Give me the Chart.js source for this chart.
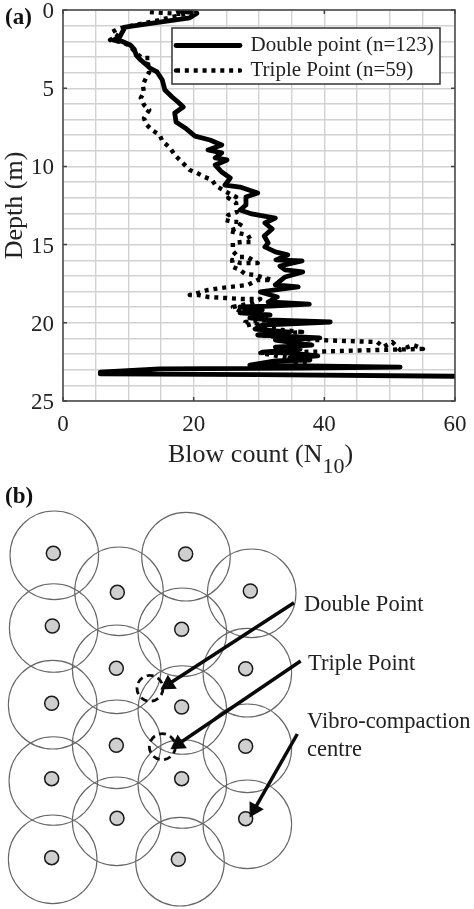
<!DOCTYPE html>
<html><head><meta charset="utf-8">
<script src="https://cdn.jsdelivr.net/npm/chart.js@4/dist/chart.umd.min.js"></script>
<style>
html,body{margin:0;padding:0;background:#fff;width:474px;height:909px;overflow:hidden}
canvas{position:absolute;left:0}
.t{position:absolute;font-family:"Liberation Serif",serif;color:#222;white-space:nowrap;line-height:1}
.s{font-size:22.5px}
.p{font-size:23px;font-weight:bold;color:#111}
sub{font-size:22px;line-height:0;vertical-align:-11px}
</style></head><body>
<canvas id="a" width="474" height="480" style="top:0"></canvas>
<canvas id="b" width="474" height="429" style="top:480px"></canvas>
<div class="t p" style="left:5px;top:5px">(a)</div>
<div class="t p" style="left:5px;top:484px">(b)</div>
<div class="t" style="left:168px;top:441px;font-size:26px">Blow count (N<sub>10</sub>)</div>
<div class="t s" style="left:304px;top:593px">Double Point</div>
<div class="t s" style="left:308px;top:652px">Triple Point</div>
<div class="t s" style="left:307px;top:710px">Vibro-compaction</div>
<div class="t s" style="left:307px;top:738px">centre</div>
<script>
// Panel (a): blow count against depth
const doubleBlow=[17.6,20.5,19.4,14.8,9.5,9.0,8.6,7.7,9.0,10.3,10.9,11.2,11.9,13.3,14.4,15.2,15.6,16.7,17.6,18.4,17.1,17.3,18.7,20.2,22.5,24.3,22.2,24.3,23.3,25.1,23.3,24.3,25.6,24.8,27.1,29.8,28.0,28.0,27.1,28.9,32.5,30.9,32.0,30.8,31.4,30.9,32.5,34.4,32.6,36.6,33.2,34.0,36.7,34.0,32.5,36.0,32.5,30.2,32.8,31.4,37.7,31.7,27.1,30.5,27.1,31.7,28.6,31.4,40.9,30.5,29.4,34.7,29.8,39.3,32.5,34.7,38.1,32.5,36.3,30.5,34.7,39.0,34.7,37.8,32.5,28.6,51.6,36.3,14.8,5.7,13.3,5.7,30.0,60.5];
const doubleDepth=[0.06,0.2,0.5,0.77,1.09,1.47,1.8,1.92,2.0,2.24,2.5,2.88,3.2,3.71,3.96,4.48,5.12,5.56,5.88,6.2,6.59,7.16,7.54,8.06,8.31,8.63,8.95,9.14,9.46,9.59,9.91,10.36,10.74,11.19,11.32,11.7,11.96,12.47,12.79,13.04,13.3,13.62,14.0,14.45,14.9,15.15,15.47,15.66,15.98,16.05,16.37,16.62,16.75,17.07,17.58,17.71,17.9,18.03,18.35,18.67,18.8,18.93,18.99,19.18,19.37,19.5,19.69,19.82,19.95,20.14,20.4,20.59,20.78,20.97,21.1,21.23,21.42,21.55,21.68,21.87,21.93,22.12,22.25,22.38,22.44,22.7,22.83,22.9,22.95,23.15,23.2,23.27,23.32,23.42];
const tripleBlow=[13.3,15.6,18.7,16.7,14.8,9.5,8.4,7.5,8.4,7.2,9.0,10.3,11.0,12.1,13.3,13.0,13.2,12.7,12.2,12.4,11.9,12.4,13.2,12.4,12.7,13.6,14.8,15.2,16.4,17.1,18.2,19.4,20.5,21.7,22.8,23.4,25.3,26.5,25.3,26.5,26.6,25.3,24.8,26.0,27.4,26.8,25.4,26.8,28.3,28.9,27.4,26.0,26.0,26.8,28.2,29.8,28.3,27.1,25.9,26.0,27.1,27.9,29.4,30.9,32.0,29.8,28.3,26.8,24.3,22.2,20.7,19.4,20.7,22.2,24.8,27.4,30.2,28.9,26.0,26.8,29.4,30.5,31.4,27.9,27.9,29.4,30.9,33.5,36.6,29.8,33.2,38.6,43.2,48.1,49.0,50.4,51.6,53.6,55.1,48.1,42.4,36.3,30.2,33.7,37.3,35.5,37.3];
const tripleDepth=[0.13,0.19,0.26,0.45,0.64,1.09,1.21,1.41,1.66,1.92,2.05,2.3,2.69,3.07,3.07,3.39,3.96,4.35,4.8,5.24,5.63,6.07,6.39,6.91,7.29,7.67,7.99,8.38,8.82,9.27,9.72,10.23,10.42,10.68,10.87,11.25,11.7,11.96,12.02,12.34,12.92,13.11,13.43,13.55,13.55,13.94,14.13,14.26,14.39,14.83,14.83,14.9,15.41,15.79,15.79,16.18,16.18,16.18,15.98,16.43,16.62,16.88,16.94,17.14,17.26,17.26,17.58,17.65,17.77,17.9,18.09,18.22,18.22,18.35,18.41,18.48,18.48,18.73,18.99,19.18,19.31,19.57,19.82,19.95,20.2,20.01,20.33,20.46,20.59,20.78,20.91,21.1,21.16,21.23,21.55,21.23,21.74,21.42,21.67,21.74,21.8,21.87,21.93,22.19,22.25,22.5,22.63];
const seriesNames=["Double point (n=123)","Triple Point (n=59)"];
const blowTicks=[0,20,40,60];
const depthTicks=[0,5,10,15,20,25];

// Panel (b): layout of the compaction grid, in schematic units
const ringX=[163,558,357,755,161,547,350,742,158,547,350,742,160,547,350,742,158,540];
const ringY=[226,230,334,340,444,457,568,578,674,690,793,805,903,912,1024,1033,1138,1145];
const centreX=[160,557,352,751,157,545,349,737,155,545,349,737,155,545,351,737,155,535];
const centreY=[220,222,337,333,438,448,565,566,670,681,796,799,896,896,1015,1016,1133,1138];
const markX=[450,487];
const markY=[625,800];
const arrowFromX=[882,902,892];
const arrowFromY=[368,543,762];
const arrowToX=[505,535,763];
const arrowToY=[613,792,988];

const xy=(xs,ys)=>xs.map((x,i)=>({x,y:ys[i]}));
const noPad=s=>{s.paddingTop=0;s.paddingBottom=0;s.paddingLeft=0;s.paddingRight=0;};

const framePlugin={id:'frame',
  afterLayout(c){
    const l=c.legend; if(!l) return;
    const w=l.right-l.left,h=l.bottom-l.top;
    l.left=172; l.top=31; l.right=172+w; l.bottom=31+h;
    if(!l._boxed){
      l._boxed=true;
      const d=l.draw.bind(l);
      l.draw=function(){
        const g=c.ctx; g.save();
        g.fillStyle='#fff'; g.strokeStyle='#333'; g.lineWidth=1.5;
        g.fillRect(172,28,268,56); g.strokeRect(172,28,268,56);
        g.restore(); d();
      };
    }
  },
  afterDraw(c){
    const g=c.ctx,a=c.chartArea,X=c.scales.x,Y=c.scales.y;
    g.save(); g.strokeStyle='#444'; g.lineWidth=1.5;
    g.strokeRect(a.left,a.top,a.right-a.left,a.bottom-a.top);
    g.beginPath();
    blowTicks.forEach(v=>{const p=X.getPixelForValue(v);
      g.moveTo(p,a.bottom);g.lineTo(p,a.bottom-4);g.moveTo(p,a.top);g.lineTo(p,a.top+4);});
    depthTicks.forEach(v=>{const p=Y.getPixelForValue(v);
      g.moveTo(a.left,p);g.lineTo(a.left+4,p);g.moveTo(a.right,p);g.lineTo(a.right-4,p);});
    g.stroke(); g.restore();
  }};

const gridStyle={color:'#d2d2d2',lineWidth:1.4,borderDash:[1.5,1.5],drawTicks:false};
const tickFont={family:'"Liberation Serif"',size:23};

new Chart(document.getElementById('a'),{
  type:'scatter',
  data:{datasets:[
    {label:seriesNames[0],data:xy(doubleBlow,doubleDepth),showLine:true,tension:0,pointRadius:0,
     borderColor:'#000',backgroundColor:'#000',borderWidth:4.8,borderJoinStyle:'round',borderCapStyle:'round'},
    {label:seriesNames[1],data:xy(tripleBlow,tripleDepth),showLine:true,tension:0,pointRadius:0,
     borderColor:'#000',backgroundColor:'#000',borderWidth:4.4,borderDash:[4,4.86],borderJoinStyle:'round'}
  ]},
  options:{responsive:false,animation:false,devicePixelRatio:1,
    layout:{autoPadding:false,padding:{top:10,right:19,left:0,bottom:0}},
    scales:{
      x:{type:'linear',min:0,max:60,position:'bottom',
        grid:gridStyle,border:{display:false},
        ticks:{stepSize:5,autoSkip:false,maxRotation:0,padding:10,color:'#222',font:tickFont,
          callback:v=>blowTicks.includes(v)?String(v):''},
        afterFit(s){s.height=79;noPad(s);}},
      y:{type:'linear',min:0,max:25,reverse:true,
        grid:gridStyle,border:{display:false},
        title:{display:true,text:'Depth (m)',color:'#222',padding:0,
          font:{family:'"Liberation Serif"',size:26}},
        ticks:{stepSize:1,autoSkip:false,padding:9,labelOffset:2,color:'#222',font:tickFont,
          callback:v=>depthTicks.includes(v)?String(v):''},
        afterFit(s){s.width=63;noPad(s);}}
    },
    plugins:{tooltip:{enabled:false},
      legend:{display:true,position:'chartArea',align:'start',
        labels:{boxWidth:64,boxHeight:0,padding:4,color:'#222',
          font:{family:'"Liberation Serif"',size:21,lineHeight:1}}}}
  },
  plugins:[framePlugin]
});

const dashPlugin={id:'dash',
  beforeDatasetDraw(c,args){if(c.data.datasets[args.index].ringDash)c.ctx.setLineDash(c.data.datasets[args.index].ringDash);},
  afterDatasetDraw(c){c.ctx.setLineDash([]);}};

const arrowSets=arrowFromX.map((x0,i)=>{
  const dx=arrowToX[i]-x0,dy=arrowToY[i]-arrowFromY[i];
  return {data:xy([x0,arrowToX[i]],[arrowFromY[i],arrowToY[i]]),showLine:true,tension:0,
    borderColor:'#0a0a0a',backgroundColor:'#0a0a0a',borderWidth:3.5,
    pointRadius:[0,6],pointStyle:'triangle',pointRotation:[0,Math.atan2(dx,-dy)*180/Math.PI],
    pointBorderColor:'#0a0a0a',pointBackgroundColor:'#0a0a0a',clip:false};
});

new Chart(document.getElementById('b'),{
  type:'scatter',
  data:{datasets:[
    ...arrowSets,
    {data:xy(markX,markY),pointRadius:13,pointBackgroundColor:'rgba(0,0,0,0)',pointBorderColor:'#0a0a0a',
     pointBorderWidth:2.8,ringDash:[7,4.5],clip:false},
    {data:xy(centreX,centreY),pointRadius:7,pointBackgroundColor:'#cfcfcf',pointBorderColor:'#1a1a1a',
     pointBorderWidth:1.5,clip:false},
    {data:xy(ringX,ringY),pointRadius:44.3,pointBackgroundColor:'rgba(0,0,0,0)',pointBorderColor:'#666',
     pointBorderWidth:1.1,clip:false}
  ]},
  options:{responsive:false,animation:false,devicePixelRatio:1,
    layout:{autoPadding:false,padding:0},
    scales:{x:{type:'linear',min:0,max:1422,display:false},
            y:{type:'linear',min:0,max:1287,reverse:true,display:false}},
    plugins:{legend:{display:false},tooltip:{enabled:false}}},
  plugins:[dashPlugin]
});
</script>
</body></html>
